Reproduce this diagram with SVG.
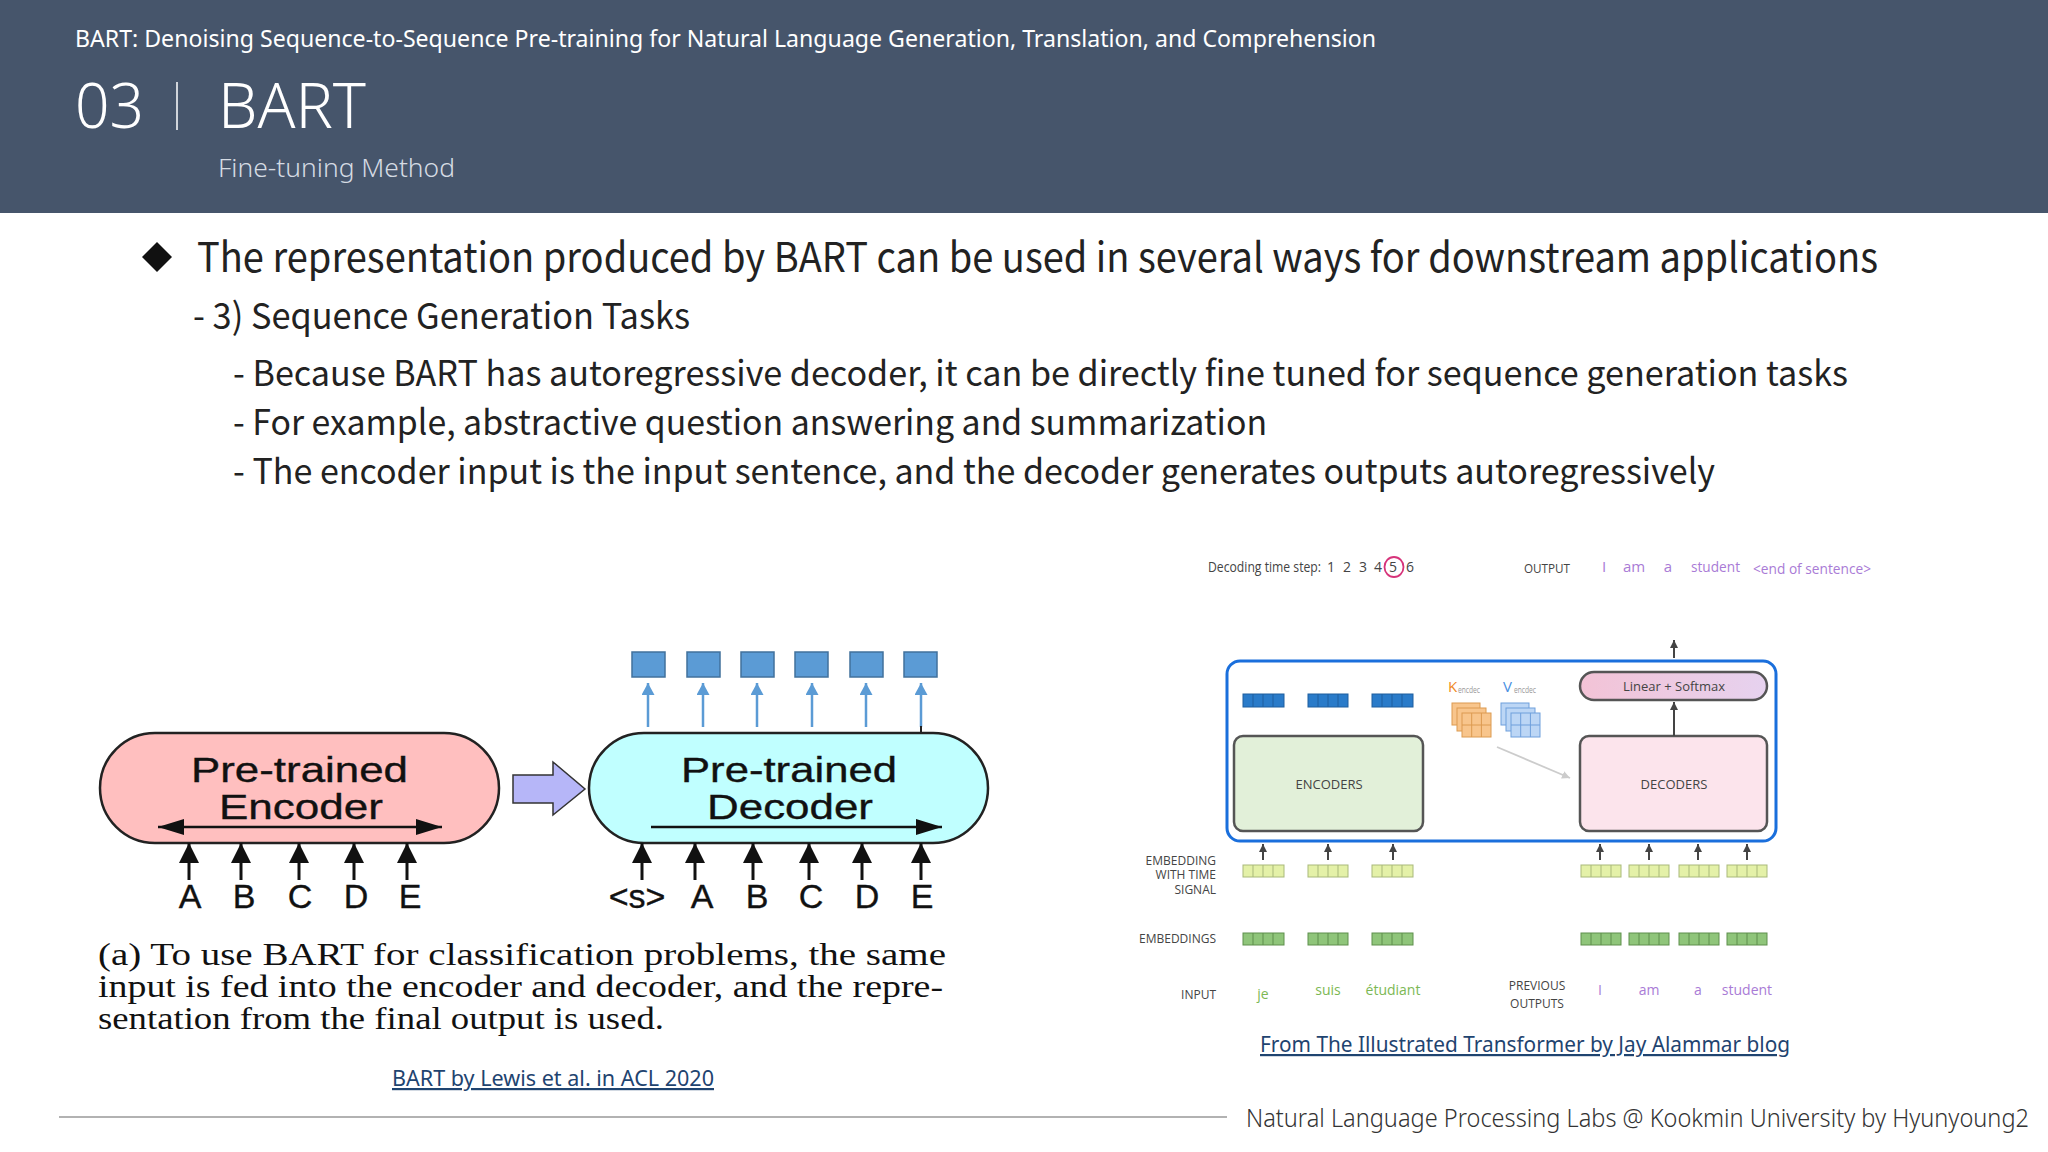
<svg xmlns="http://www.w3.org/2000/svg" width="2048" height="1152" viewBox="0 0 2048 1152">
<style>
.hdr{font-family:"Noto Sans","Open Sans",sans-serif;fill:#ffffff}
.body{font-family:"Noto Sans CJK KR","Noto Sans",sans-serif;fill:#222222}
.arial{font-family:"Liberation Sans",Arial,sans-serif;fill:#111111;stroke:#111111;stroke-width:0.35}
.times{font-family:"Liberation Serif","Times New Roman",serif;fill:#111111;font-size:32px}
.link{font-family:"Noto Sans",sans-serif;fill:#1f4470;font-size:22px;text-decoration:underline}
.tf{font-family:"Open Sans","Noto Sans",sans-serif}
.lbl{font-family:"Open Sans","Noto Sans",sans-serif;font-size:12px;fill:#444444;text-anchor:end}
.pill{stroke:#222222;stroke-width:2.5}
.blk{stroke:#111111;stroke-width:3;fill:none}
.blu{stroke:#5b9bd5;stroke-width:2.5;fill:none}
.sm{stroke:#444444;stroke-width:2;fill:none}
.outsq{fill:#5b9bd5;stroke:#41719c;stroke-width:1.5}
.encv{fill:#2a7bc9;stroke:#1f5f9e;stroke-width:1}
.tsig{fill:#e4f1a8;stroke:#a9b97a;stroke-width:1}
.emb{fill:#8fc57a;stroke:#5e8f4c;stroke-width:1}
.kg{fill:#f8c58c;stroke:#dc9a50;stroke-width:1}
.vg{fill:#bcd6f5;stroke:#6e9fdc;stroke-width:1}
.green{fill:#7cb854}
.purple{fill:#a97bd6}
</style>
<defs>
<marker id="ahBig" markerUnits="userSpaceOnUse" markerWidth="22" markerHeight="22" refX="20" refY="10" orient="auto-start-reverse">
<path d="M0,0 L20,10 L0,20 z" fill="#111111"/>
</marker>
<marker id="ahIn" markerUnits="userSpaceOnUse" markerWidth="28" markerHeight="20" refX="26" refY="8" orient="auto-start-reverse">
<path d="M0,0 L26,8 L0,16 z" fill="#111111"/>
</marker>
<marker id="ahBlue" markerUnits="userSpaceOnUse" markerWidth="14" markerHeight="14" refX="12" refY="6.5" orient="auto">
<path d="M0,0 L12,6.5 L0,13 z" fill="#5b9bd5"/>
</marker>
<marker id="ahSm" markerUnits="userSpaceOnUse" markerWidth="9" markerHeight="9" refX="8" refY="4" orient="auto">
<path d="M0,0 L8,4 L0,8 z" fill="#444444"/>
</marker>
<marker id="ahGrey" markerUnits="userSpaceOnUse" markerWidth="9" markerHeight="9" refX="8" refY="4" orient="auto">
<path d="M0,0 L8,4 L0,8 z" fill="#cccccc"/>
</marker>
<linearGradient id="lsg" x1="0" y1="0" x2="1" y2="0">
<stop offset="0" stop-color="#f3c3d6"/>
<stop offset="1" stop-color="#e6d2ef"/>
</linearGradient>
</defs>

<rect x="0" y="0" width="2048" height="1152" fill="#ffffff"/>

<g id="header">
<rect x="0" y="0" width="2048" height="213" fill="#46556b"/>
<text class="hdr" x="75" y="47" font-size="24" textLength="1301" lengthAdjust="spacingAndGlyphs">BART: Denoising Sequence-to-Sequence Pre-training for Natural Language Generation, Translation, and Comprehension</text>
<text class="hdr" x="75" y="128" font-size="62" font-weight="300" textLength="69" lengthAdjust="spacingAndGlyphs">03</text>
<line x1="177" y1="82" x2="177" y2="130" stroke="#ffffff" stroke-width="1.5"/>
<text class="hdr" x="218" y="128" font-size="62" font-weight="300" textLength="148" lengthAdjust="spacingAndGlyphs">BART</text>
<text class="hdr" x="218" y="177" font-size="26" font-weight="300" style="fill:#d5dbe3" textLength="237" lengthAdjust="spacingAndGlyphs">Fine-tuning Method</text>
</g>

<g id="bullets">
<polygon points="142,257 157,242 172,257 157,272" fill="#111111"/>
<text class="body" x="197" y="272" font-size="41" textLength="1681" lengthAdjust="spacingAndGlyphs">The representation produced by BART can be used in several ways for downstream applications</text>
<text class="body" x="193" y="329" font-size="36" textLength="497" lengthAdjust="spacingAndGlyphs">- 3) Sequence Generation Tasks</text>
<text class="body" x="233" y="386" font-size="35" textLength="1615" lengthAdjust="spacingAndGlyphs">- Because BART has autoregressive decoder, it can be directly fine tuned for sequence generation tasks</text>
<text class="body" x="233" y="435" font-size="35" textLength="1034" lengthAdjust="spacingAndGlyphs">- For example, abstractive question answering and summarization</text>
<text class="body" x="233" y="484" font-size="35" textLength="1482" lengthAdjust="spacingAndGlyphs">- The encoder input is the input sentence, and the decoder generates outputs autoregressively</text>
</g>

<!-- Left diagram: BART -->
<g id="bart-encoder">
<rect class="pill" x="100" y="733" width="399" height="110" rx="55" fill="#ffbfbf"/>
<text class="arial" x="191" y="782" font-size="35" textLength="217" lengthAdjust="spacingAndGlyphs">Pre-trained</text>
<text class="arial" x="219" y="819" font-size="35" textLength="164" lengthAdjust="spacingAndGlyphs">Encoder</text>
</g>
<g id="bart-decoder">
<rect class="pill" x="589" y="733" width="399" height="110" rx="55" fill="#c0ffff"/>
<text class="arial" x="681" y="782" font-size="35" textLength="216" lengthAdjust="spacingAndGlyphs">Pre-trained</text>
<text class="arial" x="707" y="819" font-size="35" textLength="166" lengthAdjust="spacingAndGlyphs">Decoder</text>
</g>
<g id="bart-transfer-arrow">
<polygon points="513,775 553,775 553,762 585,789 553,815 553,803 513,803" fill="#b6b6f8" stroke="#333333" stroke-width="1.5"/>
</g>
<g id="bart-outputs">
<rect class="outsq" x="632" y="652" width="33" height="25"/>
<rect class="outsq" x="687" y="652" width="33" height="25"/>
<rect class="outsq" x="741" y="652" width="33" height="25"/>
<rect class="outsq" x="795" y="652" width="33" height="25"/>
<rect class="outsq" x="850" y="652" width="33" height="25"/>
<rect class="outsq" x="904" y="652" width="33" height="25"/>
</g>
<g id="bart-enc-inputs">
<text class="arial" x="190" y="908" font-size="34" text-anchor="middle">A</text>
<text class="arial" x="244" y="908" font-size="34" text-anchor="middle">B</text>
<text class="arial" x="300" y="908" font-size="34" text-anchor="middle">C</text>
<text class="arial" x="356" y="908" font-size="34" text-anchor="middle">D</text>
<text class="arial" x="410" y="908" font-size="34" text-anchor="middle">E</text>
</g>
<g id="bart-dec-inputs">
<text class="arial" x="637" y="908" font-size="34" text-anchor="middle">&lt;s&gt;</text>
<text class="arial" x="702" y="908" font-size="34" text-anchor="middle">A</text>
<text class="arial" x="757" y="908" font-size="34" text-anchor="middle">B</text>
<text class="arial" x="811" y="908" font-size="34" text-anchor="middle">C</text>
<text class="arial" x="867" y="908" font-size="34" text-anchor="middle">D</text>
<text class="arial" x="922" y="908" font-size="34" text-anchor="middle">E</text>
</g>
<g id="bart-caption">
<text class="times" x="98" y="965" textLength="848" lengthAdjust="spacingAndGlyphs">(a)  To use BART for classification problems, the same</text>
<text class="times" x="98" y="997" textLength="845" lengthAdjust="spacingAndGlyphs">input is fed into the encoder and decoder, and the repre-</text>
<text class="times" x="98" y="1029" textLength="566" lengthAdjust="spacingAndGlyphs">sentation from the final output is used.</text>
<text class="link" x="392" y="1086" textLength="322" lengthAdjust="spacingAndGlyphs">BART by Lewis et al. in ACL 2020</text>
</g>

<!-- Right diagram: Illustrated Transformer -->
<g id="tf-header">
<text class="tf" x="1208" y="572" font-size="14" fill="#444444" textLength="113" lengthAdjust="spacingAndGlyphs">Decoding time step:</text>
<text class="tf" x="1331" y="572" font-size="14" fill="#444444" text-anchor="middle">1</text>
<text class="tf" x="1347" y="572" font-size="14" fill="#444444" text-anchor="middle">2</text>
<text class="tf" x="1363" y="572" font-size="14" fill="#444444" text-anchor="middle">3</text>
<text class="tf" x="1378" y="572" font-size="14" fill="#444444" text-anchor="middle">4</text>
<text class="tf" x="1393" y="572" font-size="14" fill="#444444" text-anchor="middle">5</text>
<ellipse cx="1394" cy="567" rx="9.5" ry="10" fill="none" stroke="#d6337a" stroke-width="1.8"/>
<text class="tf" x="1410" y="572" font-size="14" fill="#444444" text-anchor="middle">6</text>
<text class="tf" x="1524" y="573" font-size="13" fill="#444444" font-weight="500" textLength="46" lengthAdjust="spacingAndGlyphs">OUTPUT</text>
<text class="tf purple" x="1604" y="572" font-size="15" text-anchor="middle">I</text>
<text class="tf purple" x="1634" y="572" font-size="15" text-anchor="middle">am</text>
<text class="tf purple" x="1668" y="572" font-size="15" text-anchor="middle">a</text>
<text class="tf purple" x="1691" y="572" font-size="15" textLength="49" lengthAdjust="spacingAndGlyphs">student</text>
<text class="tf purple" x="1753" y="574" font-size="15" textLength="118" lengthAdjust="spacingAndGlyphs">&lt;end of sentence&gt;</text>
</g>

<g id="tf-frame">
<rect x="1227" y="661" width="549" height="180" rx="13" fill="#ffffff" stroke="#1a6fdc" stroke-width="3"/>
</g>

<g id="tf-encoders">
<rect x="1234" y="736" width="189" height="95" rx="9" fill="#e2f0d9" stroke="#555555" stroke-width="2.5"/>
<text class="tf" x="1329" y="789" font-size="13" fill="#444444" text-anchor="middle">ENCODERS</text>
</g>
<g id="tf-decoders">
<rect x="1580" y="736" width="187" height="95" rx="9" fill="#fce4ec" stroke="#555555" stroke-width="2.5"/>
<text class="tf" x="1674" y="789" font-size="13" fill="#444444" text-anchor="middle">DECODERS</text>
</g>
<g id="tf-linear-softmax">
<rect x="1580" y="672" width="187" height="28" rx="14" fill="url(#lsg)" stroke="#555555" stroke-width="2.5"/>
<text class="tf" x="1674" y="691" font-size="13" fill="#444444" text-anchor="middle">Linear + Softmax</text>
</g>

<g id="tf-enc-vectors">
<rect class="encv" x="1243" y="694" width="41" height="13"/>
<path d="M1253,694v13M1263,694v13M1273,694v13" stroke="#1f5f9e" stroke-width="1"/>
<rect class="encv" x="1308" y="694" width="40" height="13"/>
<path d="M1318,694v13M1328,694v13M1338,694v13" stroke="#1f5f9e" stroke-width="1"/>
<rect class="encv" x="1372" y="694" width="41" height="13"/>
<path d="M1382,694v13M1392,694v13M1402,694v13" stroke="#1f5f9e" stroke-width="1"/>
</g>

<g id="tf-kv">
<text class="tf" x="1448" y="692" font-size="15" fill="#f08a24">K</text>
<text class="tf" x="1458" y="693" font-size="9.5" fill="#999999" textLength="22" lengthAdjust="spacingAndGlyphs">encdec</text>
<rect class="kg" x="1452" y="703" width="28" height="22"/>
<rect class="kg" x="1457" y="708" width="29" height="23"/>
<rect class="kg" x="1462" y="713" width="29" height="24"/>
<path d="M1471.7,713v24M1481.4,713v24M1462,725h29" stroke="#dc9a50" stroke-width="1"/>
<text class="tf" x="1503" y="692" font-size="15" fill="#4a90e2">V</text>
<text class="tf" x="1514" y="693" font-size="9.5" fill="#999999" textLength="22" lengthAdjust="spacingAndGlyphs">encdec</text>
<rect class="vg" x="1501" y="703" width="28" height="22"/>
<rect class="vg" x="1506" y="708" width="29" height="23"/>
<rect class="vg" x="1511" y="713" width="29" height="24"/>
<path d="M1520.7,713v24M1530.4,713v24M1511,725h29" stroke="#6e9fdc" stroke-width="1"/>
</g>

<g id="tf-time-signal">
<rect class="tsig" x="1243" y="865" width="41" height="12"/><path d="M1253,865v12M1263,865v12M1273,865v12" stroke="#a9b97a"/>
<rect class="tsig" x="1308" y="865" width="40" height="12"/><path d="M1318,865v12M1328,865v12M1338,865v12" stroke="#a9b97a"/>
<rect class="tsig" x="1372" y="865" width="41" height="12"/><path d="M1382,865v12M1392,865v12M1402,865v12" stroke="#a9b97a"/>
<rect class="tsig" x="1581" y="865" width="40" height="12"/><path d="M1591,865v12M1601,865v12M1611,865v12" stroke="#a9b97a"/>
<rect class="tsig" x="1629" y="865" width="40" height="12"/><path d="M1639,865v12M1649,865v12M1659,865v12" stroke="#a9b97a"/>
<rect class="tsig" x="1679" y="865" width="40" height="12"/><path d="M1689,865v12M1699,865v12M1709,865v12" stroke="#a9b97a"/>
<rect class="tsig" x="1727" y="865" width="40" height="12"/><path d="M1737,865v12M1747,865v12M1757,865v12" stroke="#a9b97a"/>
<text class="lbl" x="1216" y="865">EMBEDDING</text>
<text class="lbl" x="1216" y="879">WITH TIME</text>
<text class="lbl" x="1216" y="894">SIGNAL</text>
</g>

<g id="tf-embeddings">
<rect class="emb" x="1243" y="933" width="41" height="12"/><path d="M1253,933v12M1263,933v12M1273,933v12" stroke="#5e8f4c"/>
<rect class="emb" x="1308" y="933" width="40" height="12"/><path d="M1318,933v12M1328,933v12M1338,933v12" stroke="#5e8f4c"/>
<rect class="emb" x="1372" y="933" width="41" height="12"/><path d="M1382,933v12M1392,933v12M1402,933v12" stroke="#5e8f4c"/>
<rect class="emb" x="1581" y="933" width="40" height="12"/><path d="M1591,933v12M1601,933v12M1611,933v12" stroke="#5e8f4c"/>
<rect class="emb" x="1629" y="933" width="40" height="12"/><path d="M1639,933v12M1649,933v12M1659,933v12" stroke="#5e8f4c"/>
<rect class="emb" x="1679" y="933" width="40" height="12"/><path d="M1689,933v12M1699,933v12M1709,933v12" stroke="#5e8f4c"/>
<rect class="emb" x="1727" y="933" width="40" height="12"/><path d="M1737,933v12M1747,933v12M1757,933v12" stroke="#5e8f4c"/>
<text class="lbl" x="1216" y="943">EMBEDDINGS</text>
</g>

<g id="tf-inputs">
<text class="lbl" x="1216" y="999">INPUT</text>
<text class="tf green" x="1263" y="999" font-size="14" text-anchor="middle">je</text>
<text class="tf green" x="1328" y="995" font-size="14" text-anchor="middle">suis</text>
<text class="tf green" x="1393" y="995" font-size="14" text-anchor="middle">étudiant</text>
<text class="tf" x="1537" y="990" font-size="12" fill="#444444" text-anchor="middle">PREVIOUS</text>
<text class="tf" x="1537" y="1008" font-size="12" fill="#444444" text-anchor="middle">OUTPUTS</text>
<text class="tf purple" x="1600" y="995" font-size="14" text-anchor="middle">I</text>
<text class="tf purple" x="1649" y="995" font-size="14" text-anchor="middle">am</text>
<text class="tf purple" x="1698" y="995" font-size="14" text-anchor="middle">a</text>
<text class="tf purple" x="1747" y="995" font-size="14" text-anchor="middle">student</text>
<text class="link" x="1260" y="1052" textLength="530" lengthAdjust="spacingAndGlyphs">From The Illustrated Transformer by Jay Alammar blog</text>
</g>

<g id="connectors">
<line class="blk" x1="189" y1="880" x2="189" y2="843" marker-end="url(#ahBig)"/>
<line class="blk" x1="241" y1="880" x2="241" y2="843" marker-end="url(#ahBig)"/>
<line class="blk" x1="299" y1="880" x2="299" y2="843" marker-end="url(#ahBig)"/>
<line class="blk" x1="354" y1="880" x2="354" y2="843" marker-end="url(#ahBig)"/>
<line class="blk" x1="407" y1="880" x2="407" y2="843" marker-end="url(#ahBig)"/>
<line class="blk" x1="642" y1="880" x2="642" y2="843" marker-end="url(#ahBig)"/>
<line class="blk" x1="695" y1="880" x2="695" y2="843" marker-end="url(#ahBig)"/>
<line class="blk" x1="753" y1="880" x2="753" y2="843" marker-end="url(#ahBig)"/>
<line class="blk" x1="809" y1="880" x2="809" y2="843" marker-end="url(#ahBig)"/>
<line class="blk" x1="862" y1="880" x2="862" y2="843" marker-end="url(#ahBig)"/>
<line class="blk" x1="921" y1="880" x2="921" y2="843" marker-end="url(#ahBig)"/>
<line x1="158" y1="827" x2="442" y2="827" stroke="#111111" stroke-width="2.5" marker-start="url(#ahIn)" marker-end="url(#ahIn)"/>
<line x1="651" y1="827" x2="942" y2="827" stroke="#111111" stroke-width="2.5" marker-end="url(#ahIn)"/>
<line class="blu" x1="648" y1="727" x2="648" y2="683" marker-end="url(#ahBlue)"/>
<line class="blu" x1="703" y1="727" x2="703" y2="683" marker-end="url(#ahBlue)"/>
<line class="blu" x1="757" y1="727" x2="757" y2="683" marker-end="url(#ahBlue)"/>
<line class="blu" x1="812" y1="727" x2="812" y2="683" marker-end="url(#ahBlue)"/>
<line class="blu" x1="866" y1="727" x2="866" y2="683" marker-end="url(#ahBlue)"/>
<line class="blu" x1="921" y1="727" x2="921" y2="683" marker-end="url(#ahBlue)"/>
<line x1="921" y1="726" x2="921" y2="734" stroke="#222222" stroke-width="2"/>
<line class="sm" x1="1674" y1="658" x2="1674" y2="640" marker-end="url(#ahSm)"/>
<line class="sm" x1="1674" y1="736" x2="1674" y2="702" marker-end="url(#ahSm)"/>
<line x1="1497" y1="747" x2="1570" y2="778" stroke="#cccccc" stroke-width="1.8" marker-end="url(#ahGrey)"/>
<line class="sm" x1="1263" y1="860" x2="1263" y2="844" marker-end="url(#ahSm)"/>
<line class="sm" x1="1328" y1="860" x2="1328" y2="844" marker-end="url(#ahSm)"/>
<line class="sm" x1="1393" y1="860" x2="1393" y2="844" marker-end="url(#ahSm)"/>
<line class="sm" x1="1600" y1="860" x2="1600" y2="844" marker-end="url(#ahSm)"/>
<line class="sm" x1="1649" y1="860" x2="1649" y2="844" marker-end="url(#ahSm)"/>
<line class="sm" x1="1698" y1="860" x2="1698" y2="844" marker-end="url(#ahSm)"/>
<line class="sm" x1="1747" y1="860" x2="1747" y2="844" marker-end="url(#ahSm)"/>
</g>

<g id="footer">
<line x1="59" y1="1117" x2="1227" y2="1117" stroke="#666666" stroke-width="1.2"/>
<text x="1246" y="1127" font-family="'Noto Sans',sans-serif" font-weight="300" font-size="25" fill="#333333" textLength="783" lengthAdjust="spacingAndGlyphs">Natural Language Processing Labs @ Kookmin University by Hyunyoung2</text>
</g>
</svg>
